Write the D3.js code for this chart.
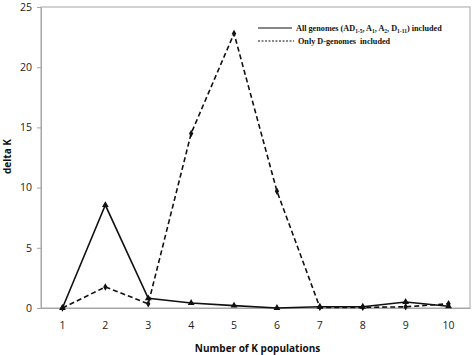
<!DOCTYPE html>
<html lang="en">
<head>
<meta charset="UTF-8">
<title>delta K</title>
<script src="https://d3js.org/d3.v7.min.js"></script>
<style>
    body { margin: 0; background: #fff; }
    .tick text { font-family: "Open Sans", sans-serif; font-size: 10.5px; fill: #222; }
    .axis-title { font-family: "Open Sans", sans-serif; font-size: 10px; font-weight: bold; fill: #111; }
    .legend-text { font-family: "Liberation Serif", serif; font-size: 8.2px; font-weight: bold; fill: #111; white-space: pre; }
</style>
</head>
<body>
<div id="chart"></div>
<script>
    // Data
    const kValues = [1, 2, 3, 4, 5, 6, 7, 8, 9, 10];
    const allGenomes = [0, 8.55, 0.8, 0.42, 0.2, 0.0, 0.1, 0.1, 0.5, 0.15];
    const onlyD = [0, 1.75, 0.35, 14.5, 22.8, 9.7, 0.05, 0.05, 0.1, 0.35];
    const yTicks = [0, 5, 10, 15, 20, 25];

    const W = 474, H = 355;
    const margin = { top: 7, right: 4, bottom: 47, left: 41 };
    const width = W - margin.left - margin.right;
    const height = H - margin.top - margin.bottom;

    const svg = d3.select('#chart').append('svg')
        .attr('width', W).attr('height', H);
    const g = svg.append('g')
        .attr('transform', `translate(${margin.left},${margin.top})`);

    const x = d3.scaleBand().domain(kValues).range([0, width]);
    const y = d3.scaleLinear().domain([0, 25]).range([height, 0]);
    const cx = d => x(d) + x.bandwidth() / 2;

    // plot frame
    g.append('rect')
        .attr('width', width).attr('height', height)
        .attr('fill', 'none').attr('stroke', '#a6a6a6').attr('stroke-width', 1);

    // y axis
    const yAxis = g.append('g')
        .call(d3.axisLeft(y).tickValues(yTicks).tickSize(4).tickPadding(5));
    yAxis.select('.domain').attr('stroke', '#a6a6a6');
    yAxis.selectAll('.tick line').attr('stroke', '#a6a6a6');

    // x axis
    const xAxis = g.append('g')
        .attr('transform', `translate(0,${height})`)
        .call(d3.axisBottom(x).tickSize(0).tickPadding(14));
    xAxis.select('.domain').attr('stroke', '#a6a6a6');

    // axis titles
    g.append('text')
        .attr('class', 'axis-title')
        .attr('text-anchor', 'middle')
        .attr('x', width / 2 + 2)
        .attr('y', height + 44)
        .text('Number of K populations');
    g.append('text')
        .attr('class', 'axis-title')
        .attr('text-anchor', 'middle')
        .attr('transform', 'rotate(-90)')
        .attr('x', -height / 2 + 1)
        .attr('y', -30)
        .text('delta K');

    const line = d3.line()
        .x((d, i) => cx(kValues[i]))
        .y(d => y(d));

    // dashed series
    g.append('path')
        .datum(onlyD)
        .attr('d', line)
        .attr('fill', 'none')
        .attr('stroke', '#111')
        .attr('stroke-width', 1.6)
        .attr('stroke-dasharray', '5,3');
    g.selectAll('.d-mark')
        .data(onlyD)
        .enter().append('path')
        .attr('class', 'd-mark')
        .attr('transform', (d, i) => `translate(${cx(kValues[i])},${y(d)})`)
        .attr('d', d3.symbol(d3.symbolDiamond, 16))
        .attr('fill', '#111');

    // solid series
    g.append('path')
        .datum(allGenomes)
        .attr('d', line)
        .attr('fill', 'none')
        .attr('stroke', '#111')
        .attr('stroke-width', 1.6);
    g.selectAll('.a-mark')
        .data(allGenomes)
        .enter().append('path')
        .attr('class', 'a-mark')
        .attr('transform', (d, i) => `translate(${cx(kValues[i])},${y(d)})`)
        .attr('d', d3.symbol(d3.symbolTriangle, 20))
        .attr('fill', '#111');

    // legend
    const leg = svg.append('g');
    leg.append('line')
        .attr('x1', 258).attr('x2', 292).attr('y1', 28).attr('y2', 28)
        .attr('stroke', '#111').attr('stroke-width', 1);
    leg.append('line')
        .attr('x1', 258).attr('x2', 294).attr('y1', 41).attr('y2', 41)
        .attr('stroke', '#111').attr('stroke-width', 1).attr('stroke-dasharray', '2,1.5');

    const t1 = leg.append('text').attr('class', 'legend-text').attr('x', 296).attr('y', 31);
    t1.append('tspan').text('All genomes (AD');
    t1.append('tspan').attr('font-size', '5.5px').attr('dy', 2).text('1-5');
    t1.append('tspan').attr('dy', -2).text(', A');
    t1.append('tspan').attr('font-size', '5.5px').attr('dy', 2).text('1');
    t1.append('tspan').attr('dy', -2).text(', A');
    t1.append('tspan').attr('font-size', '5.5px').attr('dy', 2).text('2');
    t1.append('tspan').attr('dy', -2).text(', D');
    t1.append('tspan').attr('font-size', '5.5px').attr('dy', 2).text('1-11');
    t1.append('tspan').attr('dy', -2).text(') included');

    leg.append('text').attr('class', 'legend-text').attr('x', 298).attr('y', 44)
        .text('Only D-genomes  included');
</script>
</body>
</html>
